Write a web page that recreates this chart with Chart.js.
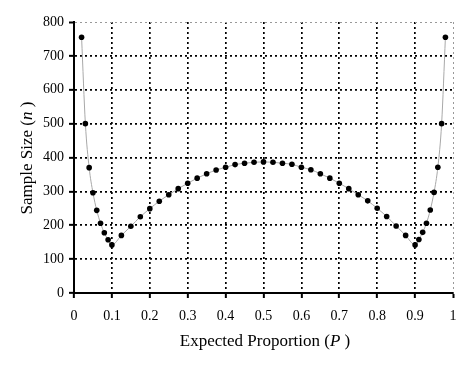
<!DOCTYPE html>
<html>
<head>
<meta charset="utf-8">
<script src="https://cdn.jsdelivr.net/npm/chart.js@4"></script>
<style>
  body { margin: 0; background: #fff; }
</style>
</head>
<body>
<canvas id="chart" width="474" height="370"></canvas>
<script>
// expected proportion P
const proportions = [
    0.02, 0.03, 0.04, 0.05, 0.06, 0.07, 0.08, 0.09, 0.10,
    0.125, 0.15, 0.175, 0.2, 0.225, 0.25, 0.275, 0.3, 0.325, 0.35, 0.375,
    0.4, 0.425, 0.45, 0.475, 0.5, 0.525, 0.55, 0.575, 0.6, 0.625, 0.65,
    0.675, 0.7, 0.725, 0.75, 0.775, 0.8, 0.825, 0.85, 0.875, 0.9,
    0.91, 0.92, 0.93, 0.94, 0.95, 0.96, 0.97, 0.98
];
// sample size n
const sampleSizes = [
    755, 500, 370, 296, 244, 206, 178, 157, 142,
    170, 197, 225, 249, 271, 290, 308, 324, 339, 352, 363,
    371, 379, 383, 386, 387, 386, 383, 380, 371, 364, 352,
    339, 324, 308, 290, 272, 250, 226, 198, 170, 142,
    158, 179, 206, 245, 297, 371, 500, 755
];
const xTicks = ['0', '0.1', '0.2', '0.3', '0.4', '0.5', '0.6', '0.7', '0.8', '0.9', '1'];
const yTicks = ['0', '100', '200', '300', '400', '500', '600', '700', '800'];

const xTitle = [['Expected Proportion (', 'normal'], ['P', 'italic'], [' )', 'normal']];
const yTitle = [['Sample Size (', 'normal'], ['n', 'italic'], [' )', 'normal']];

const FONT = '"Liberation Serif", "Times New Roman", serif';

function drawRich(ctx, parts, size) {
    let total = 0;
    parts.forEach(p => {
        ctx.font = `${p[1]} ${size}px ${FONT}`;
        total += ctx.measureText(p[0]).width;
    });
    let x = -total / 2;
    parts.forEach(p => {
        ctx.font = `${p[1]} ${size}px ${FONT}`;
        ctx.fillText(p[0], x, 0);
        x += ctx.measureText(p[0]).width;
    });
}

const titlesPlugin = {
    id: 'titles',
    afterDraw(chart) {
        const ctx = chart.ctx;
        ctx.save();
        ctx.fillStyle = '#000';
        ctx.textBaseline = 'middle';
        ctx.textAlign = 'left';
        ctx.translate(265, 342);
        drawRich(ctx, xTitle, 17);
        ctx.restore();

        ctx.save();
        ctx.fillStyle = '#000';
        ctx.textBaseline = 'middle';
        ctx.textAlign = 'left';
        ctx.translate(28, 158);
        ctx.rotate(-Math.PI / 2);
        drawRich(ctx, yTitle, 17);
        ctx.restore();
    }
};

new Chart(document.getElementById('chart'), {
    type: 'line',
    data: {
        datasets: [{
            data: proportions.map((p, i) => ({ x: p, y: sampleSizes[i] })),
            borderColor: '#a8a8a8',
            borderWidth: 1,
            cubicInterpolationMode: 'monotone',
            pointRadius: 2.8,
            pointBackgroundColor: '#000',
            pointBorderWidth: 0,
            fill: false
        }]
    },
    options: {
        responsive: false,
        animation: false,
        layout: { padding: { top: 22, right: 21, left: 0, bottom: 0 } },
        plugins: { legend: { display: false }, tooltip: { enabled: false } },
        scales: {
            x: {
                type: 'linear',
                min: 0,
                max: 1,
                afterFit: s => { s.height = 77; },
                afterBuildTicks: s => { s.ticks = xTicks.map(t => ({ value: Number(t) })); },
                ticks: {
                    autoSkip: false,
                    maxRotation: 0,
                    padding: 10,
                    color: '#000',
                    font: { family: FONT, size: 14 },
                    callback: (v, i) => xTicks[i]
                },
                grid: {
                    color: ctx => ctx.tick && ctx.tick.value === 1 ? '#999' : '#000',
                    lineWidth: ctx => ctx.tick && ctx.tick.value === 1 ? 1 : 1.7,
                    tickLength: 5,
                    tickColor: '#000',
                    tickWidth: 2,
                    tickBorderDash: []
                },
                border: { color: '#000', width: 2, dash: [2, 3] }
            },
            y: {
                min: 0,
                max: 800,
                afterFit: s => { s.width = 74; },
                afterBuildTicks: s => { s.ticks = yTicks.map(t => ({ value: Number(t) })); },
                ticks: {
                    padding: 5,
                    color: '#000',
                    font: { family: FONT, size: 14 },
                    callback: (v, i) => yTicks[i]
                },
                grid: {
                    color: ctx => ctx.tick && ctx.tick.value === 800 ? '#999' : '#000',
                    lineWidth: ctx => ctx.tick && ctx.tick.value === 800 ? 1 : 1.7,
                    tickLength: 5,
                    tickColor: '#000',
                    tickWidth: 2,
                    tickBorderDash: []
                },
                border: { color: '#000', width: 2, dash: [2, 3] }
            }
        }
    },
    plugins: [titlesPlugin]
});
</script>
</body>
</html>
